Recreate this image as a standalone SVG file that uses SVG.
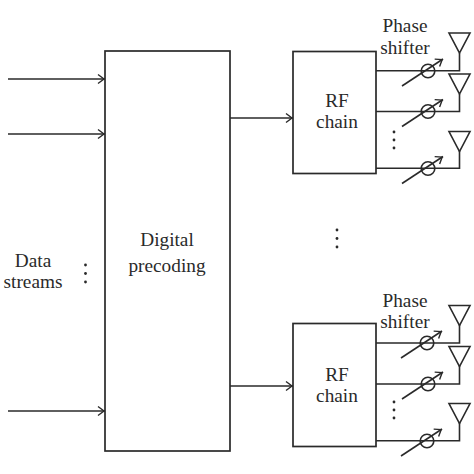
<svg xmlns="http://www.w3.org/2000/svg" width="474" height="474" viewBox="0 0 474 474">
<style>
.s{fill:none;stroke:#2a2a2a;stroke-width:1.6}
.b{fill:#fff;stroke:#2a2a2a;stroke-width:1.7}
text{font-family:"Liberation Serif","Times New Roman",serif;font-size:19.300px;fill:#2a2a2a;text-anchor:middle}
.d{fill:#2a2a2a}
</style>
<defs>
<marker id="a" markerWidth="10" markerHeight="12" refX="9" refY="5" orient="auto" markerUnits="userSpaceOnUse" viewBox="0 0 10 10"><path d="M2 0.500L8 5L2 9.500" fill="none" stroke="#2a2a2a" stroke-width="1.400"/></marker>
<g id="ps"><circle cx="0" cy="0" r="6.800" fill="none" stroke="#2a2a2a" stroke-width="1.600"/><path class="s" d="M-26 15L15 -12" marker-end="url(#a)"/></g>
<g id="ant"><path class="s" d="M-10.500 0H10.500L0 20Z"/></g>
</defs>
<g id="connectors">
<path class="s" d="M8 79H105" marker-end="url(#a)"/>
<path class="s" d="M8 134H105" marker-end="url(#a)"/>
<path class="s" d="M8 411H105" marker-end="url(#a)"/>
<path class="s" d="M230 118H293" marker-end="url(#a)"/>
<path class="s" d="M230 386H293" marker-end="url(#a)"/>
<path class="s" d="M376 70.700H459.500V53"/>
<path class="s" d="M376 111.500H459.500V94"/>
<path class="s" d="M376 168.300H459.500V151"/>
<path class="s" d="M376 343H459.500V325"/>
<path class="s" d="M376 384H459.500V366"/>
<path class="s" d="M376 440.700H459.500V423"/>
</g>
<g id="digital-precoding"><rect class="b" x="105" y="51" width="125" height="400"/><text x="167" y="246">Digital</text><text x="167" y="272">precoding</text></g>
<g id="rf-chain-1"><rect class="b" x="293" y="51.500" width="83" height="122"/><text x="337" y="107">RF</text><text x="337" y="128">chain</text></g>
<g id="rf-chain-2"><rect class="b" x="293" y="323.500" width="83" height="123"/><text x="337" y="381">RF</text><text x="337" y="402">chain</text></g>
<g id="data-streams"><text x="33" y="267">Data</text><text x="33" y="288">streams</text>
<circle class="d" cx="85.500" cy="265" r="1.400"/><circle class="d" cx="85.500" cy="273.500" r="1.400"/><circle class="d" cx="85.500" cy="282" r="1.400"/></g>
<g id="dots-middle"><circle class="d" cx="337" cy="230" r="1.400"/><circle class="d" cx="337" cy="238.500" r="1.400"/><circle class="d" cx="337" cy="247" r="1.400"/></g>
<g id="phase-shifters-1"><text x="405" y="32">Phase</text><text x="405" y="54">shifter</text>
<use href="#ps" x="428" y="71"/><use href="#ps" x="428" y="111.500"/><use href="#ps" x="428" y="168.500"/>
<circle class="d" cx="394" cy="132" r="1.400"/><circle class="d" cx="394" cy="140" r="1.400"/><circle class="d" cx="394" cy="148" r="1.400"/></g>
<g id="phase-shifters-2"><text x="405" y="307">Phase</text><text x="405" y="328">shifter</text>
<use href="#ps" x="427" y="343"/><use href="#ps" x="428" y="384"/><use href="#ps" x="427" y="441"/>
<circle class="d" cx="394" cy="402" r="1.400"/><circle class="d" cx="394" cy="410" r="1.400"/><circle class="d" cx="394" cy="418" r="1.400"/></g>
<g id="antennas-1"><use href="#ant" x="459.500" y="33"/><use href="#ant" x="459.500" y="74"/><use href="#ant" x="459.500" y="131.500"/></g>
<g id="antennas-2"><use href="#ant" x="459.500" y="305.500"/><use href="#ant" x="459.500" y="346.500"/><use href="#ant" x="459.500" y="403.500"/></g>
</svg>
